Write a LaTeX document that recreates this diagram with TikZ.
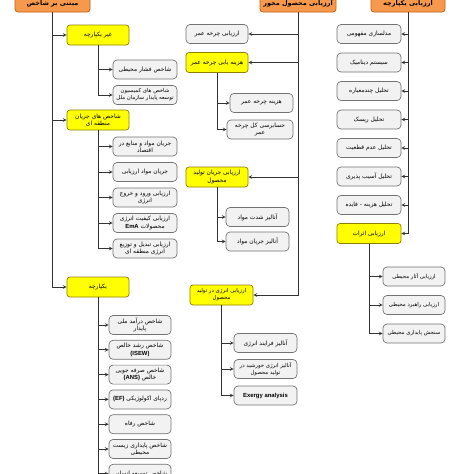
\documentclass[tikz,border=0pt]{standalone}
\usepackage{fontspec}
\setmainfont{Liberation Sans}
\newfontfamily\persianfont[Script=Arabic]{DejaVu Sans}
\TeXXeTstate=1
\newlength{\du}
\setlength{\du}{1pt}
\definecolor{orangefill}{rgb}{0.968627, 0.600000, 0.300000}
\definecolor{orangeline}{rgb}{0.760000, 0.380000, 0.080000}
\definecolor{yellowfill}{rgb}{1.000000, 1.000000, 0.000000}
\definecolor{yellowline}{rgb}{0.560000, 0.500000, 0.000000}
\definecolor{grayfill}{rgb}{0.949020, 0.949020, 0.949020}
\definecolor{grayline}{rgb}{0.450000, 0.450000, 0.450000}
\definecolor{linkline}{rgb}{0.200000, 0.200000, 0.200000}
\newcommand{\fat}[1]{{\persianfont\beginR #1\endR}}
\newcommand{\lat}[1]{\beginL{\normalfont\bfseries #1}\endL}
\tikzset{
  headbox/.style={draw=orangeline, fill=orangefill, rounded corners=3\du, minimum width=75\du, minimum height=16\du, line width=0.8\du, inner sep=1\du, align=center, font=\fontsize{6.5}{7.5}\selectfont\bfseries},
  groupbox/.style={draw=yellowline, fill=yellowfill, rounded corners=3\du, minimum width=62\du, minimum height=20\du, line width=0.7\du, inner sep=1\du, align=center, font=\fontsize{5.9}{7.2}\selectfont},
  leafbox/.style={draw=grayline, fill=grayfill, rounded corners=4\du, minimum width=63\du, minimum height=19\du, line width=0.7\du, inner sep=1\du, align=center, font=\fontsize{5.9}{7.2}\selectfont},
  smalltext/.style={font=\fontsize{5.4}{7}\selectfont},
  link/.style={draw=linkline, line width=0.7\du, -stealth}
}
\begin{document}
\begin{tikzpicture}
\pgftransformxscale{1.000000}
\pgftransformyscale{-1.000000}
\path[fill=white] (0\du,0\du) rectangle (474\du,474\du);
\useasboundingbox (0\du,0\du) rectangle (474\du,474\du);
% left column
\node[headbox] (base) at (52.5\du,4\du) {\fat{مبتنی بر شاخص}};
\node[groupbox] (nonint) at (98\du,35\du) {\fat{غیر یکپارچه}};
\node[leafbox, minimum width=64\du] (press) at (145\du,69.5\du) {\fat{شاخص فشار محیطی}};
\node[leafbox, minimum width=64\du, smalltext] (uncsd) at (145\du,95\du) {\fat{شاخص های کمیسیون}\\\fat{توسعه پایدار سازمان ملل}};
\node[groupbox] (region) at (98\du,120\du) {\fat{شاخص های جریان}\\\fat{منطقه ای}};
\node[leafbox, minimum width=64\du] (econ) at (145\du,146.5\du) {\fat{جریان مواد و منابع در}\\\fat{اقتصاد}};
\node[leafbox, minimum width=64\du] (matflow) at (145\du,172\du) {\fat{جریان مواد ارزیابی}};
\node[leafbox, minimum width=64\du] (inout) at (145\du,197.5\du) {\fat{ارزیابی ورود و خروج}\\\fat{انرژی}};
\node[leafbox, minimum width=64\du] (emergy) at (145\du,223\du) {\fat{ارزیابی کیفیت انرژی}\\\fat{محصولات \lat{EmA}}};
\node[leafbox, minimum width=64\du] (distrib) at (145\du,248.5\du) {\fat{ارزیابی تبدیل و توزیع}\\\fat{انرژی منطقه ای}};
\node[groupbox] (integ) at (98\du,287\du) {\fat{یکپارچه}};
\node[leafbox, minimum width=62\du] (income) at (140\du,325\du) {\fat{شاخص درآمد ملی}\\\fat{پایدار}};
\node[leafbox, minimum width=62\du] (isew) at (140\du,349.8\du) {\fat{شاخص رشد خالص}\\\fat{\lat{(ISEW)}}};
\node[leafbox, minimum width=62\du] (ans) at (140\du,374.6\du) {\fat{شاخص صرفه جویی}\\\fat{خالص \lat{(ANS)}}};
\node[leafbox, minimum width=62\du] (foot) at (140\du,399.4\du) {\fat{ردپای اکولوژیکی \lat{(EF)}}};
\node[leafbox, minimum width=62\du] (welfare) at (140\du,424.2\du) {\fat{شاخص رفاه}};
\node[leafbox, minimum width=62\du] (envsus) at (140\du,449\du) {\fat{شاخص پایداری زیست}\\\fat{محیطی}};
\node[leafbox, minimum width=62\du] (human) at (140\du,473.8\du) {\fat{شاخص توسعه انسانی}};
\draw[link] (base.south) |- (nonint.west);
\draw[link] (base.south) |- (region.west);
\draw[link] (base.south) |- (integ.west);
\draw[link] (nonint.south) |- (press.west);
\draw[link] (nonint.south) |- (uncsd.west);
\draw[link] (region.south) |- (econ.west);
\draw[link] (region.south) |- (matflow.west);
\draw[link] (region.south) |- (inout.west);
\draw[link] (region.south) |- (emergy.west);
\draw[link] (region.south) |- (distrib.west);
\draw[link] (integ.south) |- (income.west);
\draw[link] (integ.south) |- (isew.west);
\draw[link] (integ.south) |- (ans.west);
\draw[link] (integ.south) |- (foot.west);
\draw[link] (integ.south) |- (welfare.west);
\draw[link] (integ.south) |- (envsus.west);
\draw[link] (integ.south) |- (human.west);
% middle column
\node[headbox, minimum width=76\du] (product) at (298\du,4\du) {\fat{ارزیابی محصول محور}};
\node[leafbox, minimum width=62\du] (lca) at (217\du,34\du) {\fat{ارزیابی چرخه عمر}};
\node[groupbox] (lcc) at (217\du,62.5\du) {\fat{هزینه یابی چرخه عمر}};
\node[leafbox] (lcost) at (261.5\du,103\du) {\fat{هزینه چرخه عمر}};
\node[leafbox, minimum width=66\du] (audit) at (260\du,129.5\du) {\fat{حسابرسی کل چرخه}\\\fat{عمر}};
\node[groupbox] (prodflow) at (217\du,177\du) {\fat{ارزیابی جریان تولید}\\\fat{محصول}};
\node[leafbox] (intens) at (257.5\du,217\du) {\fat{آنالیز شدت مواد}};
\node[leafbox] (mfa) at (257.5\du,241.5\du) {\fat{آنالیز جریان مواد}};
\node[groupbox, minimum width=63\du, smalltext] (prodenergy) at (221.5\du,295\du) {\fat{ارزیابی انرژی در تولید}\\\fat{محصول}};
\node[leafbox] (process) at (265.5\du,343\du) {\fat{آنالیز فرایند انرژی}};
\node[leafbox, smalltext] (solar) at (265.5\du,369\du) {\fat{آنالیز انرژی خورشید در}\\\fat{تولید محصول}};
\node[leafbox] (exergy) at (265.5\du,395.5\du) {\lat{Exergy analysis}};
\draw[link] (product.south) |- (lca.east);
\draw[link] (product.south) |- (lcc.east);
\draw[link] (product.south) |- (prodflow.east);
\draw[link] (product.south) |- (prodenergy.east);
\draw[link] (lcc.south) |- (lcost.west);
\draw[link] (lcc.south) |- (audit.west);
\draw[link] (prodflow.south) |- (intens.west);
\draw[link] (prodflow.south) |- (mfa.west);
\draw[link] (prodenergy.south) |- (process.west);
\draw[link] (prodenergy.south) |- (solar.west);
\draw[link] (prodenergy.south) |- (exergy.west);
% right column
\node[headbox, minimum width=74\du] (whole) at (408\du,4\du) {\fat{ارزیابی یکپارچه}};
\node[leafbox, minimum width=64\du] (concept) at (369\du,34\du) {\fat{مدلسازی مفهومی}};
\node[leafbox, minimum width=64\du] (dynamic) at (369\du,62.5\du) {\fat{سیستم دینامیک}};
\node[leafbox, minimum width=64\du] (mcda) at (369\du,91\du) {\fat{تحلیل چندمعیاره}};
\node[leafbox, minimum width=64\du] (risk) at (369\du,119.5\du) {\fat{تحلیل ریسک}};
\node[leafbox, minimum width=64\du] (uncert) at (369\du,148\du) {\fat{تحلیل عدم قطعیت}};
\node[leafbox, minimum width=64\du] (vulner) at (369\du,176.5\du) {\fat{تحلیل آسیب پذیری}};
\node[leafbox, minimum width=64\du] (cba) at (369\du,205\du) {\fat{تحلیل هزینه - فایده}};
\node[groupbox, minimum width=64\du] (impact) at (369\du,233.5\du) {\fat{ارزیابی اثرات}};
\node[leafbox, minimum width=62\du, smalltext] (eia) at (414\du,276.5\du) {\fat{ارزیابی آثار محیطی}};
\node[leafbox, minimum width=62\du, smalltext] (sea) at (414\du,305\du) {\fat{ارزیابی راهبرد محیطی}};
\node[leafbox, minimum width=62\du, smalltext] (sustain) at (414\du,333.5\du) {\fat{سنجش پایداری محیطی}};
\draw[link] (whole.south) |- (concept.east);
\draw[link] (whole.south) |- (dynamic.east);
\draw[link] (whole.south) |- (mcda.east);
\draw[link] (whole.south) |- (risk.east);
\draw[link] (whole.south) |- (uncert.east);
\draw[link] (whole.south) |- (vulner.east);
\draw[link] (whole.south) |- (cba.east);
\draw[link] (whole.south) |- (impact.east);
\draw[link] (impact.south) |- (eia.west);
\draw[link] (impact.south) |- (sea.west);
\draw[link] (impact.south) |- (sustain.west);
\end{tikzpicture}
\end{document}
